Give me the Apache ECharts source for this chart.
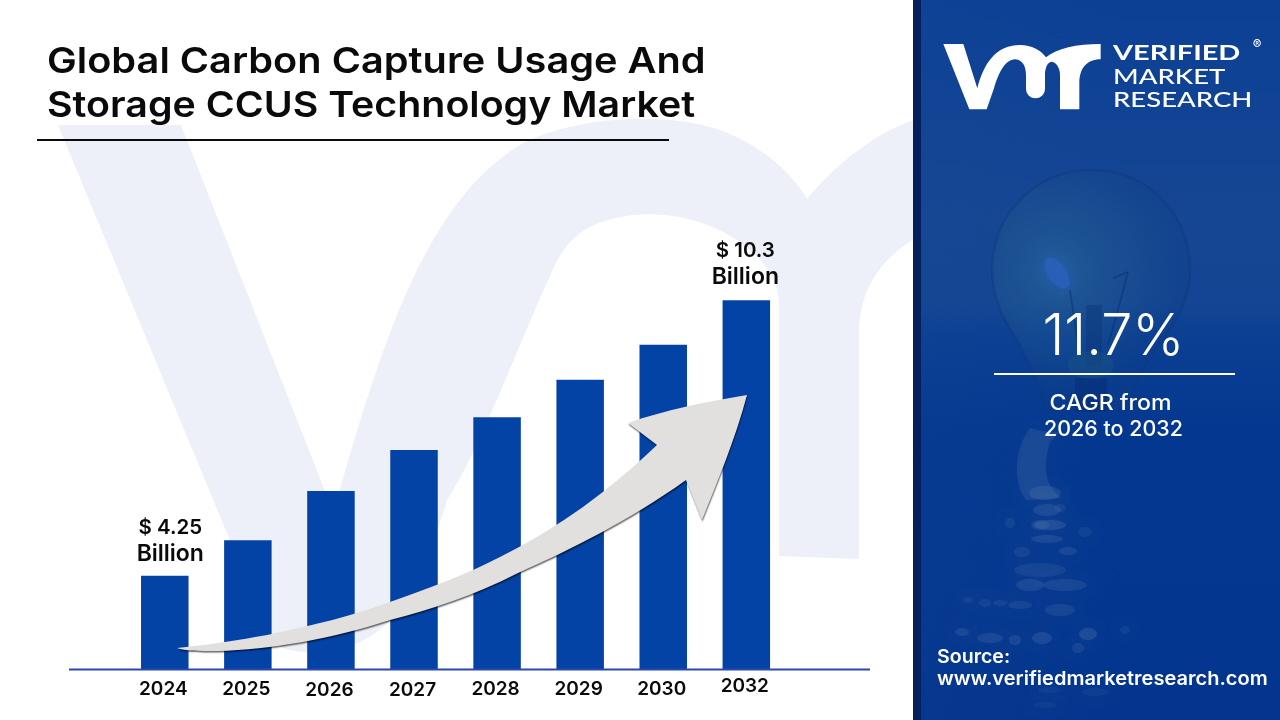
<!DOCTYPE html>
<html><head><meta charset="utf-8">
<style>html,body{margin:0;padding:0;background:#fff}#c{width:1280px;height:720px}</style>
<script src="https://cdn.jsdelivr.net/npm/echarts@6/dist/echarts.min.js"></script>
</head><body><div id="c"></div>
<script>
const categories = ['2024','2025','2026','2027','2028','2029','2030','2032'];
const drawnValues = [4.25,5.03,6.11,7.01,7.73,8.55,9.32,10.3];
const firstLabel = '{a|$ 4.25}\n{b|Billion}';
const lastLabel = '{a|$ 10.3}\n{b|Billion}';
const titleLines = ['Global Carbon Capture Usage And','Storage CCUS Technology Market'];
const logoLines = ['VERIFIED','MARKET','RESEARCH'];

const FONT = 'Inter';
const LG = echarts.graphic.LinearGradient, RG = echarts.graphic.RadialGradient;
const chart = echarts.init(document.getElementById('c'), null, {width:1280,height:720});

function txt(text,x,y,size,weight,fill,align,sx,family){
  return {type:'text',x:x,y:y,scaleX:sx||1,z:30,
    style:{text:text,fill:fill,font:(weight||400)+' '+size+'px "'+(family||FONT)+'"',align:align||'left',verticalAlign:'middle'}};
}
function blob(cx,cy,rx,ry,op){
  return {type:'ellipse',z:21,shape:{cx:cx,cy:cy,rx:rx,ry:ry},style:{fill:'rgba(125,150,185,'+op*0.8+')',shadowBlur:8,shadowColor:'rgba(125,150,185,'+op+')'},silent:true};
}
const shapes = {
  watermarkShape:'M58 125 L181 125 L325 491 L338 497 C385 330 430 200 520 145 C570 118 660 110 720 130 C760 145 790 170 807 199 C840 160 880 130 915 120 L915 238 C880 260 859 290 859 334 L859 559 L779 556 L779 300 C775 250 700 205 626 216 C590 222 570 235 555 265 C520 340 480 450 447 500 C420 590 390 640 340 648 C300 655 275 655 265 625 Z',
  arrowShape:'M177 648 C207 645 240 640 267 635 C315 625 355 615 390 602 C430 588 465 575 500 557 C560 527 610 490 657 445 L628 423 C665 410 705 402 747 395 C735 440 718 480 702 520 L686 480 C630 520 570 550 518 573 C475 595 430 610 390 620 C335 638 270 650 217 651 C200 651 185 651 177 648 Z',
  logoShape:'M70 72 L130 72 L172 205 C190 135 225 75 300 75 C335 75 362 90 378 112 C410 85 470 72 542 72 L542 118 C500 118 478 145 478 190 L478 268 L420 268 L420 165 C420 140 405 125 395 125 C385 125 375 140 375 165 L375 205 C375 245 318 245 318 205 L318 165 C318 130 300 118 285 118 C255 118 235 160 222 205 L200 268 L148 268 Z',
  bulbShape:'M1091 170 C1150 170 1190 215 1190 270 C1190 310 1165 335 1145 365 C1135 385 1130 395 1128 410 L1045 410 C1042 385 1020 345 1005 320 C995 300 992 285 992 270 C992 215 1035 170 1091 170 Z',
  handShape:'M1030 428 C1045 432 1055 434 1062 430 L1050 442 C1040 475 1050 490 1062 498 L1026 500 C1012 480 1015 448 1030 428 Z'
};
Object.keys(shapes).forEach(k=>echarts.graphic.registerShape(k,echarts.graphic.extendPath(shapes[k],{})));

const graphicEls = [
  {type:'watermarkShape',z:-5,silent:true,style:{fill:'#edf0f8'}},
  {type:'rect',z:20,shape:{x:913,y:0,width:9,height:720},style:{fill:'#03205c'}},
  {type:'rect',z:20,shape:{x:921,y:0,width:359,height:720},style:{fill:new LG(0,0,0,1,[
    {offset:0,color:'#0c4095'},{offset:.3,color:'#144693'},{offset:.42,color:'#134594'},{offset:.47,color:'#0a3f93'},{offset:.6,color:'#043890'},{offset:1,color:'#03358e'}])}},
  {type:'rect',z:20,shape:{x:921,y:0,width:200,height:720},style:{fill:new LG(0,0,1,0,[
    {offset:0,color:'rgba(30,80,150,.10)'},{offset:1,color:'rgba(30,80,150,0)'}])}},
  {type:'bulbShape',z:21,silent:true,style:{
    fill:new RG(.33,.42,.62,[{offset:0,color:'rgba(50,120,150,.42)'},{offset:.6,color:'rgba(35,90,140,.30)'},{offset:1,color:'rgba(15,60,130,.25)'}]),
    stroke:'rgba(15,55,125,.4)',lineWidth:2.5}},
  {type:'ellipse',z:21,silent:true,rotation:.6,x:1057,y:273,shape:{cx:0,cy:0,rx:9,ry:18},style:{fill:'rgba(44,95,187,.85)',shadowBlur:18,shadowColor:'#2c5fbb'}},
  {type:'polyline',z:21,silent:true,shape:{points:[[1070,290],[1078,345]]},style:{stroke:'rgba(10,45,110,.55)',lineWidth:1.5,fill:null}},
  {type:'polyline',z:21,silent:true,shape:{points:[[1128,272],[1118,310],[1108,345]]},style:{stroke:'rgba(10,45,110,.55)',lineWidth:1.5,fill:null}},
  {type:'polyline',z:21,silent:true,shape:{points:[[1113,278],[1128,272]]},style:{stroke:'rgba(10,45,110,.55)',lineWidth:1.5,fill:null}},
  {type:'rect',z:21,silent:true,shape:{x:1086,y:305,width:16,height:60},style:{fill:'rgba(10,50,115,.4)'}},
  {type:'ellipse',z:21,silent:true,shape:{cx:1091,cy:365,rx:23,ry:14},style:{fill:'rgba(25,85,130,.45)'}},
  {type:'rect',z:21,silent:true,shape:{x:1075,y:378,width:32,height:34},style:{fill:'rgba(5,40,110,.4)'}},
  {type:'handShape',z:21,silent:true,style:{fill:'rgba(115,145,180,.17)',shadowBlur:8,shadowColor:'rgba(115,145,180,.2)'}},
  blob(1045,493,16,7,.2),blob(1047,510,14,6,.2),blob(1040,525,9,5,.18),blob(1060,508,6,4,.14),
  blob(1010,523,5,5,.15),blob(1050,525,16,5,.24),blob(1047,539,16,4,.2),blob(1085,532,7,5,.13),
  blob(1022,552,8,5,.16),blob(1068,551,9,4,.2),blob(1040,570,26,7,.16),blob(1030,585,14,6,.2),
  blob(1065,585,22,6,.18),blob(1020,605,12,4,.17),blob(1060,610,15,6,.18),blob(968,600,5,3,.14),
  blob(985,603,6,4,.13),blob(1000,603,7,3,.14),blob(962,632,7,4,.2),blob(990,638,13,5,.2),
  blob(1015,640,6,5,.2),blob(1042,638,10,6,.22),blob(1088,634,9,6,.24),blob(1078,648,6,5,.17),
  blob(1125,630,5,4,.13),blob(1095,692,14,4,.1),blob(1050,690,12,3,.1),blob(1045,705,12,3,.1),
  {type:'logoShape',z:31,silent:true,x:920,y:20,scaleX:1/3,scaleY:1/3,style:{fill:'#fff'}},
  txt(logoLines[0],1113,53,21,700,'#fff','left',1.375,'Lato'),
  txt(logoLines[1],1113,77,21,500,'#fff','left',1.31,'Lato'),
  txt(logoLines[2],1113,100,21,500,'#fff','left',1.31,'Lato'),
  txt('®',1257,45,13,400,'#fff','center'),
  txt('11.7%',1113.5,338,58,300,'#fff','center',0.96),
  {type:'rect',z:30,shape:{x:994,y:373,width:241,height:2},style:{fill:'#fff'}},
  txt('CAGR from',1110.5,404,21,500,'#fff','center',1.1),
  txt('2026 to 2032',1113.5,430,21,500,'#fff','center',1.02),
  txt('Source:',937,657,19,600,'#fff','left',1.03),
  txt('www.verifiedmarketresearch.com',937,679,19,600,'#fff','left',1.054),
  txt(titleLines[0],47,62,36,600,'#0a0a0a','left',1.104),
  txt(titleLines[1],47,106,36,600,'#0a0a0a','left',1.093),
  {type:'rect',z:30,shape:{x:37,y:139,width:632,height:2},style:{fill:'#0a0a0a'}},
  {type:'rect',z:4,shape:{x:69,y:668.5,width:801,height:2},style:{fill:'#2a49ad'}},
  {type:'arrowShape',z:10,silent:true,style:{fill:'#e2dfdf',shadowBlur:1.5,shadowColor:'rgba(0,0,0,.6)',shadowOffsetX:0.5,shadowOffsetY:1.5}}
];

const barLabel = (text,dx,dist)=>({show:true,position:'top',formatter:text,offset:[dx,0],distance:dist,
  color:'#0a0a0a',rich:{
    a:{fontFamily:FONT,fontSize:20.5,fontWeight:600,lineHeight:26,color:'#0a0a0a'},
    b:{fontFamily:FONT,fontSize:23,fontWeight:600,lineHeight:26,color:'#0a0a0a'}}});

chart.setOption({
  animation:false,
  backgroundColor:'#ffffff',
  grid:{left:123.25,width:664.6,top:200,height:469,containLabel:false},
  xAxis:{type:'category',data:categories.map((c,i)=>({value:c,textStyle:{padding:[i===7?2:(i===2||i===3?6:5),3,0,0]}})),
    axisLine:{show:false},axisTick:{show:false},
    axisLabel:{fontFamily:FONT,fontSize:19,fontWeight:600,color:'#0a0a0a',margin:6,interval:0}},
  yAxis:{type:'value',min:2.2,max:12.5,show:false,splitLine:{show:false}},
  graphic:{elements:graphicEls},
  series:[{type:'bar',barWidth:47.5,z:2,itemStyle:{color:'#0443a6'},
    data:drawnValues.map((v,i)=>i===0?{value:v,label:barLabel(firstLabel,5.5,9)}:i===7?{value:v,label:barLabel(lastLabel,-1,10)}:v)}]
});
</script></body></html>
